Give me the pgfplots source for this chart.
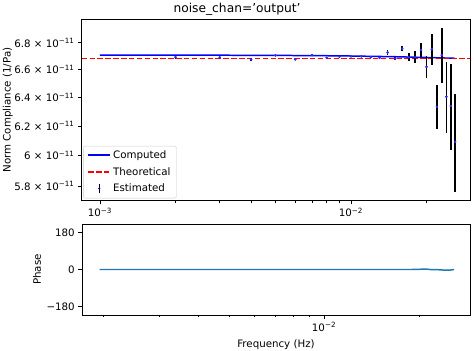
\documentclass[border=0pt]{standalone}
\usepackage{fontspec}
\setmainfont{DejaVu Sans}
\usepackage{pgfplots}
\pgfplotsset{compat=1.18}
\usepackage{pgfplotstable}
\definecolor{mplblue}{HTML}{1F77B4}

% compliance values in units of 1e-11 1/Pa
\pgfplotstableread{
f v e
0.002 6.692 0.011
0.003 6.690 0.010
0.004 6.675 0.008
0.005 6.705 0.005
0.006 6.675 0.006
0.007 6.707 0.008
0.008 6.687 0.008
0.009 6.695 0.005
0.010 6.697 0.005
0.011 6.697 0.006
0.012 6.692 0.006
0.013 6.687 0.006
0.014 6.726 0.016
0.015 6.682 0.012
0.016 6.756 0.022
0.017 6.690 0.030
0.018 6.690 0.045
0.019 6.745 0.055
0.020 6.620 0.083
0.021 6.750 0.114
0.022 6.333 0.152
0.023 6.707 0.205
0.024 6.404 0.250
0.025 6.338 0.300
0.026 6.091 0.333
}\est

\pgfplotstableread{
f v
0.001 6.707
0.003 6.706
0.005 6.705
0.008 6.702
0.010 6.700
0.015 6.695
0.020 6.689
0.026 6.683
}\comp

\pgfplotstableread{
f p
0.00195 0
0.003 0
0.005 0
0.008 0
0.010 0
0.015 0
0.019 0
0.020 1
0.021 2
0.022 -1
0.023 -1
0.024 -3
0.025 -3
0.0258 0
}\phase

\pgfplotsset{
  every axis/.append style={
    scale only axis,
    anchor=south west,
    tick align=outside,
    xtick pos=bottom, ytick pos=left,
    major tick length=3.6bp, minor tick length=2.1bp,
    every tick/.style={black, line width=0.8pt},
    minor tick style={line width=0.6pt},
    axis line style={line width=0.8pt},
    /pgf/number format/assume math mode=true,
    tick label style={font=\fontsize{10.3}{12}\selectfont},
    label style={font=\fontsize{10.3}{12}\selectfont},
  }
}

\begin{document}
\fontsize{10.3}{12}\selectfont
\begin{tikzpicture}
\begin{axis}[
  at={(81.7bp,150.3bp)}, width=388.3bp, height=181bp,
  xmode=log, ymode=log,
  xmin=0.000846, xmax=0.0298,
  ymin=5.706, ymax=6.976,
  xtick={0.001,0.01},
  xticklabels={10\textsuperscript{−3},10\textsuperscript{−2}},
  minor xtick={0.002,0.003,0.004,0.005,0.006,0.007,0.008,0.009,0.02},
  ytick={5.8,6,6.2,6.4,6.6,6.8},
  yticklabels={5.8 × 10\textsuperscript{−11},6 × 10\textsuperscript{−11},6.2 × 10\textsuperscript{−11},6.4 × 10\textsuperscript{−11},6.6 × 10\textsuperscript{−11},6.8 × 10\textsuperscript{−11}},
  minor ytick={},
  ylabel={Norm Compliance (1/Pa)},
  ylabel style={at={(axis description cs:-0.19,0.5)}, anchor=center},
  every axis title shift=0pt,
  title={noise\_chan=\symbol{39}output\symbol{39}},
  title style={at={(axis description cs:0.4,1.058)}, anchor=center, yshift=0pt, font=\fontsize{12.3}{14}\selectfont},
  legend style={at={(axis description cs:0.004,0.013)}, anchor=south west,
    draw=black!20, rounded corners=2bp, fill=white, fill opacity=0.8, text opacity=1,
    font=\fontsize{10.3}{12}\selectfont, row sep=3bp, inner xsep=4bp, inner ysep=3bp,
    /tikz/column 2/.style={column sep=4bp}},
  legend cell align=left,
]
\addplot[blue, line width=1.5pt,
  legend image code/.code={\draw[blue, line width=1.6pt] (0cm,0.02cm) -- (0.78cm,0.02cm);}]
  table[x=f, y=v] {\comp};
\addlegendentry{Computed}
\addplot[red, line width=1.5pt, dash pattern=on 5.5pt off 2.4pt,
  legend image code/.code={\draw[red, line width=1.5pt, dash pattern=on 5.5pt off 2.4pt] (0cm,0cm) -- (0.78cm,0cm);}]
  coordinates {(0.000846,6.683) (0.0298,6.683)};
\addlegendentry{Theoretical}
\addplot[only marks, mark=*, mark size=0.9bp, blue,
  legend image code/.code={\draw[black, line width=1.5pt] (0.39cm,-0.17cm)--(0.39cm,0.17cm); \fill[blue] (0.39cm,0cm) circle (0.9bp);},
  error bars/.cd, y dir=both, y explicit, error mark=none,
  error bar style={black, line width=1.5pt}]
  table[x=f, y=v, y error=e] {\est};
\addlegendentry{Estimated}
\addplot[only marks, mark=*, mark size=1bp, blue!80!white, forget plot]
  table[x=f, y=v] {\est};
\end{axis}

\begin{axis}[
  at={(82bp,36bp)}, width=388bp, height=91bp,
  xmode=log,
  xmin=0.001714, xmax=0.02897,
  ymin=-220, ymax=220,
  xtick={0.01}, xticklabels={10\textsuperscript{−2}},
  minor xtick={0.002,0.003,0.004,0.005,0.006,0.007,0.008,0.009,0.02},
  ytick={-180,0,180}, yticklabels={−180,0,180},
  ylabel={Phase},
  ylabel style={at={(axis description cs:-0.116,0.5)}, anchor=center},
  xlabel={Frequency (Hz)},
  xlabel style={at={(axis description cs:0.5,-0.33)}, anchor=center},
]
\addplot[mplblue, line width=1.5pt] table[x=f, y=p] {\phase};
\end{axis}
\pgfresetboundingbox
\path[use as bounding box] (0,0) rectangle (474bp,351bp);
\end{tikzpicture}
\end{document}
